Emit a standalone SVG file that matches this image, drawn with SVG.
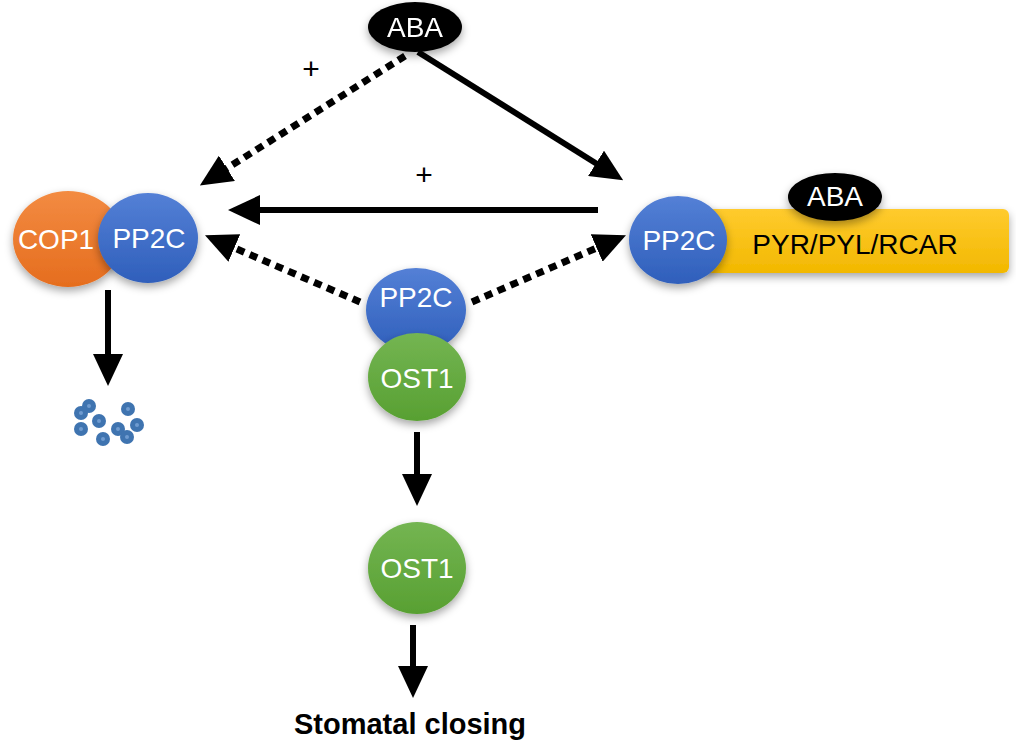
<svg xmlns="http://www.w3.org/2000/svg" width="1016" height="745" viewBox="0 0 1016 745">
<defs>
<style>
.lbl{font-family:"Liberation Sans",Arial,sans-serif;font-size:28px;fill:#fff;text-anchor:middle;dominant-baseline:central}
.plus{font-family:"Liberation Sans",Arial,sans-serif;font-size:30px;fill:#000;text-anchor:middle;dominant-baseline:central}
.solid{stroke:#000;stroke-width:6;fill:none}
.dot{stroke:#000;stroke-width:7;fill:none;stroke-dasharray:8 6}
.bd{fill:#3f74b0}
.bc{fill:#6f9bd0}
</style>
<marker id="ah" markerUnits="userSpaceOnUse" markerWidth="34" markerHeight="30" refX="20" refY="15" orient="auto">
<path d="M0,0 L32,15 L0,30 Z" fill="#000"/>
</marker>
<linearGradient id="gb" x1="0" y1="0" x2="0" y2="1"><stop offset="0" stop-color="#5480d6"/><stop offset="1" stop-color="#2f5fbb"/></linearGradient>
<linearGradient id="go" x1="0" y1="0" x2="0" y2="1"><stop offset="0" stop-color="#f38b42"/><stop offset="1" stop-color="#e56d1e"/></linearGradient>
<linearGradient id="gg" x1="0" y1="0" x2="0" y2="1"><stop offset="0" stop-color="#74b552"/><stop offset="1" stop-color="#58a032"/></linearGradient>
<linearGradient id="gy" x1="0" y1="0" x2="0" y2="1"><stop offset="0" stop-color="#ffcb2e"/><stop offset="1" stop-color="#f2b800"/></linearGradient>
<filter id="sh" x="-30%" y="-30%" width="160%" height="170%"><feDropShadow dx="0" dy="4" stdDeviation="4" flood-color="#000" flood-opacity="0.35"/></filter>
</defs>
<rect width="1016" height="745" fill="#fff"/>

<g id="connectors">
<line class="solid" x1="418" y1="52" x2="613" y2="174" marker-end="url(#ah)"/>
<line class="solid" x1="598" y1="210" x2="240" y2="210" marker-end="url(#ah)"/>
<line class="dot" x1="405" y1="56" x2="210" y2="179" marker-end="url(#ah)"/>
<line class="dot" x1="360" y1="302" x2="216" y2="240" marker-end="url(#ah)"/>
<line class="dot" x1="472" y1="302" x2="615" y2="240" marker-end="url(#ah)"/>
<line class="solid" x1="108" y1="290" x2="108" y2="374" marker-end="url(#ah)"/>
<line class="solid" x1="417" y1="432" x2="417" y2="494" marker-end="url(#ah)"/>
<line class="solid" x1="413" y1="625" x2="413" y2="686" marker-end="url(#ah)"/>
<text class="plus" x="311" y="68">+</text>
<text class="plus" x="424" y="174">+</text>
</g>

<g id="aba-top" filter="url(#sh)">
<ellipse cx="415" cy="27" rx="47" ry="25" fill="#000"/>
<text class="lbl" x="415" y="27">ABA</text>
</g>

<g id="cop1-pp2c">
<ellipse cx="68" cy="239" rx="55" ry="48" fill="url(#go)" filter="url(#sh)"/>
<text class="lbl" x="56" y="239">COP1</text>
<ellipse cx="148" cy="238" rx="50" ry="45" fill="url(#gb)" filter="url(#sh)"/>
<text class="lbl" x="149" y="238">PP2C</text>
</g>

<g id="degraded">
<circle class="bd" cx="81" cy="413" r="7"/><circle class="bc" cx="81" cy="413" r="2"/>
<circle class="bd" cx="89" cy="406" r="7"/><circle class="bc" cx="89" cy="406" r="2"/>
<circle class="bd" cx="99" cy="421" r="7"/><circle class="bc" cx="99" cy="421" r="2"/>
<circle class="bd" cx="81" cy="429" r="7"/><circle class="bc" cx="81" cy="429" r="2"/>
<circle class="bd" cx="103" cy="439" r="7"/><circle class="bc" cx="103" cy="439" r="2"/>
<circle class="bd" cx="118" cy="429" r="7"/><circle class="bc" cx="118" cy="429" r="2"/>
<circle class="bd" cx="128" cy="409" r="7"/><circle class="bc" cx="128" cy="409" r="2"/>
<circle class="bd" cx="137" cy="425" r="7"/><circle class="bc" cx="137" cy="425" r="2"/>
<circle class="bd" cx="127" cy="437" r="7"/><circle class="bc" cx="127" cy="437" r="2"/>
</g>

<g id="receptor-complex">
<rect x="700" y="209" width="309" height="64" rx="6" fill="url(#gy)" filter="url(#sh)"/>
<ellipse cx="835" cy="197" rx="47" ry="24" fill="#000" filter="url(#sh)"/>
<text class="lbl" x="835" y="196">ABA</text>
<ellipse cx="678" cy="240" rx="49" ry="44" fill="url(#gb)" filter="url(#sh)"/>
<text class="lbl" x="679" y="240">PP2C</text>
<text class="lbl" x="855" y="244" style="fill:#000">PYR/PYL/RCAR</text>
</g>

<g id="pp2c-ost1">
<ellipse cx="416" cy="310" rx="50" ry="42" fill="url(#gb)" filter="url(#sh)"/>
<text class="lbl" x="416" y="297">PP2C</text>
<ellipse cx="417" cy="377" rx="49" ry="44" fill="url(#gg)" filter="url(#sh)"/>
<text class="lbl" x="417" y="378">OST1</text>
</g>

<g id="ost1">
<ellipse cx="417" cy="568" rx="49" ry="46" fill="url(#gg)" filter="url(#sh)"/>
<text class="lbl" x="417" y="568">OST1</text>
</g>

<g id="stomatal">
<text x="410" y="724" style="font-family:'Liberation Sans',Arial,sans-serif;font-size:29px;font-weight:bold;text-anchor:middle;dominant-baseline:central">Stomatal closing</text>
</g>
</svg>
